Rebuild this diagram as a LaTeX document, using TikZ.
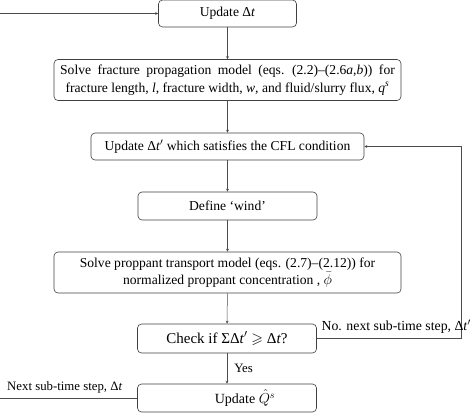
\documentclass[tikz,border=0pt]{standalone}
\usepackage{amssymb}
\usepackage{fontspec}
\setmainfont{Liberation Serif}
\usetikzlibrary{arrows.meta}
\newcommand{\ti}{\textit{t}}
\begin{document}
\begin{tikzpicture}[x=1pt,y=-1pt,
  box/.style={draw=black!75,line width=0.6pt,rounded corners=4pt,align=center,inner sep=0pt,font=\fontsize{13.6}{17.5}\selectfont},
  conn/.style={draw=black!70,line width=0.5pt,-{Stealth[length=3pt,width=3pt]}},
  lbl/.style={font=\fontsize{12.8}{15}\selectfont,inner sep=0pt}]
\useasboundingbox (0,0) rectangle (474,416);
\node[box,minimum width=138pt,minimum height=27pt] (b1) at (227.5,13.5) {Update Δ\ti};
\node[box,minimum width=347pt,minimum height=41pt] (b2) at (227.5,80) {{\spaceskip=6.5pt plus 1pt Solve fracture propagation model (eqs. (2.2)–(2.6\textit{a},\textit{b})) for}\\fracture length, \textit{l}, fracture width, \textit{w}, and fluid/slurry flux, \textit{q}\textsuperscript{\textit{s}}};
\node[box,minimum width=273pt,minimum height=27pt] (b3) at (227.5,146.5) {Update Δ\ti$^{\prime}$ which satisfies the CFL condition};
\node[box,minimum width=179pt,minimum height=28pt] (b4) at (227.5,206) {Define ‘wind’};
\node[box,minimum width=347pt,minimum height=41pt] (b5) at (227.5,272.5) {Solve proppant transport model (eqs. (2.7)–(2.12)) for\\normalized proppant concentration , $\bar{\phi}$};
\node[box,minimum width=179pt,minimum height=29pt,font=\fontsize{15}{18}\selectfont] (b6) at (227,338.5) {Check if ΣΔ\ti$^{\prime}$ $\geqslant$ Δ\ti?};
\node[box,minimum width=179pt,minimum height=28pt,font=\fontsize{14}{17}\selectfont] (b7) at (227,398) {\hspace*{36pt}Update $\hat{Q}^{s}$};
\coordinate (r1) at (461,338.5);
\coordinate (r2) at (461,146.5);
\coordinate (l1) at (-10,398);
\coordinate (l2) at (-10,13.5);
\draw[conn] (b1) -- (b2);
\draw[conn] (b2) -- (b3);
\draw[conn] (b3) -- (b4);
\draw[conn] (b4) -- (b5);
\draw[conn] (b5) -- (b6);
\draw[conn] (b6) -- node[lbl,right=7pt,pos=0.5] (yes) {Yes} (b7);
\draw[conn] (b6.east) -- (r1) -- (r2) -- (b3.east);
\draw[conn] (b7.west) -- (l1) -- (l2) -- (b1.west);
\node[lbl,anchor=south east,font=\fontsize{13.8}{16}\selectfont] (nolbl) at (471,334) {No. next sub-time step, Δ\ti$^{\prime}$};
\node[lbl,anchor=south west] (nextlbl) at (7,393) {Next sub-time step, Δ\ti};
\end{tikzpicture}
\end{document}
